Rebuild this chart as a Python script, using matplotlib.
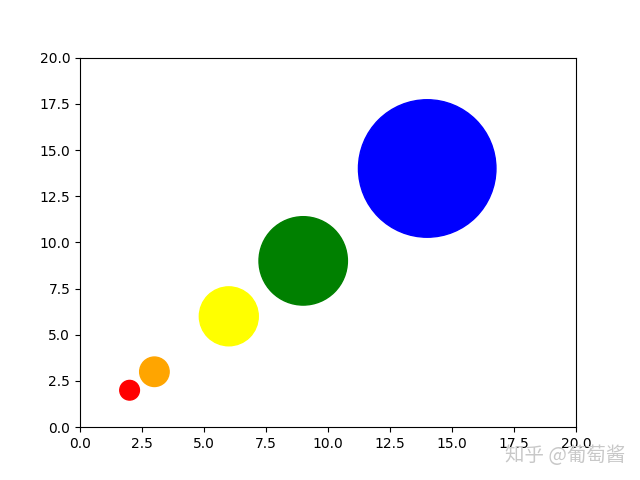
import matplotlib
matplotlib.use("Agg")
import matplotlib.pyplot as plt

x = [2, 3, 6, 9, 14]
y = [2, 3, 6, 9, 14]
sizes = [200, 450, 1800, 4050, 9800]
colors = ["red", "orange", "yellow", "green", "blue"]

fig = plt.figure(figsize=(6.4, 4.8), dpi=100)
ax = fig.add_subplot(111)
ax.scatter(x, y, s=sizes, c=colors)
ax.set_xlim(0, 20)
ax.set_ylim(0, 20)

fig.text(0.977, 0.052, "知乎 @葡萄酱", ha="right", va="center", fontsize=14,
         color="#c8c8c8", family=["Noto Sans CJK SC", "DejaVu Sans"])

fig.savefig("out.png", dpi=100)
